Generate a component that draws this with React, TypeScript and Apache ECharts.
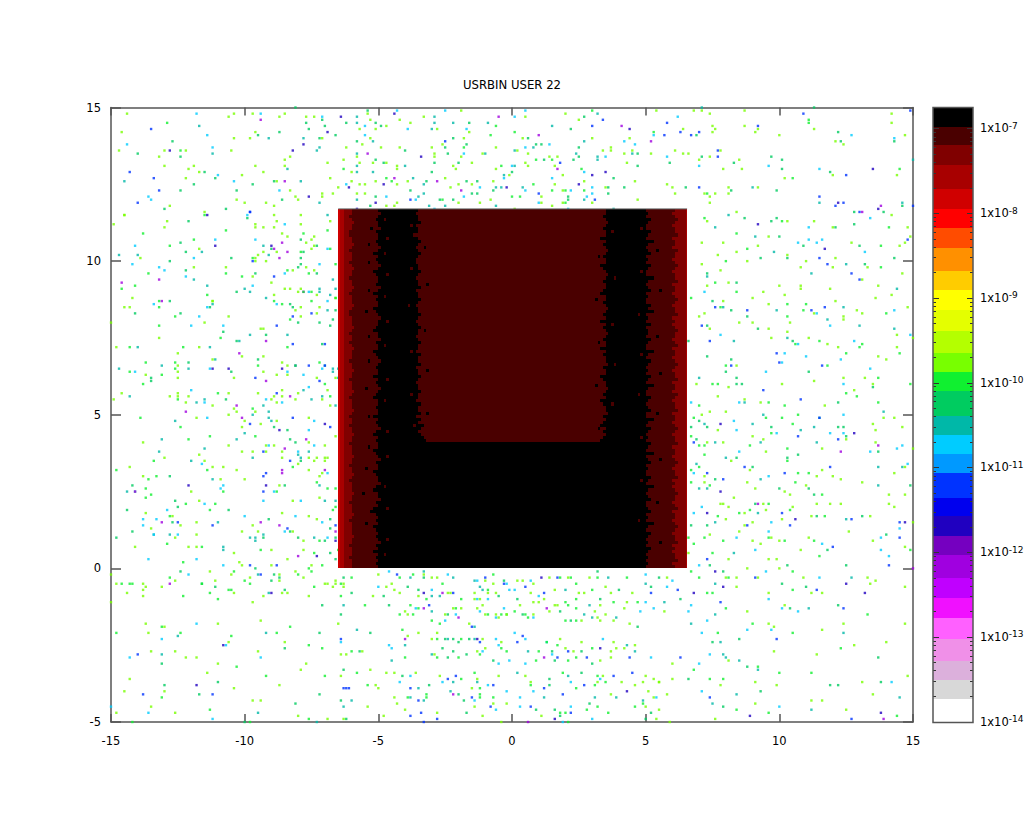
import React, { useEffect, useRef } from "react";
import * as echarts from "echarts";

const titleText = "USRBIN USER 22";
const xTicks = { min: -15, max: 15, step: 5 };
const yTicks = { min: -5, max: 15, step: 5 };

// colour scale: log10 of band edges, bottom to top, and the colour of each band
const bandEdges = [-14, -13.73, -13.51, -13.29, -13.03, -12.78, -12.54, -12.31, -12.04, -11.81, -11.58, -11.36, -11.07, -10.84, -10.62, -10.39, -10.1, -9.88, -9.65, -9.39, -9.14, -8.91, -8.68, -8.41, -8.18, -7.95, -7.72, -7.43, -7.2, -6.99, -6.754];
const bandColors = ["#ffffff", "#d8d8d8", "#dcb0dc", "#f090e8", "#ff60ff", "#f010ff", "#c000ff", "#a000e0", "#7500c0", "#2000c0", "#0000ee", "#0033ff", "#0099ff", "#00ccff", "#00b8a8", "#00cc60", "#10f030", "#78ff00", "#b4ff00", "#e4ff00", "#ffff00", "#ffcc00", "#ff9000", "#ff4c00", "#ff0000", "#d00000", "#a80000", "#800000", "#4a0000", "#000000"];
const decades = [-14, -13, -12, -11, -10, -9, -8, -7];
const minorMultipliers = [2, 3, 4, 5, 6, 7, 8, 9];

// log10 of the value of each kind of scattered bin
const pointKinds = [-9.75, -10, -10.25, -10.5, -10.7, -11.2, -11.7, -12.2];

// block: column edges (tenths of a unit) row by row from y=11.7 downward
const blockLeft = -65;
const blockRight = 65.5;
const blockTop = 117;
const innerRows = 76;
const edgeA = [-60,-60,-61,-60,-59,-60,-60,-61,-61,-60,-60,-59,-60,-61,-60,-60,-60,-61,-60,-59,-60,-60,-61,-60,-60,-59,-60,-61,-60,-60,-60,-59,-60,-61,-61,-60,-60,-60,-59,-60,-61,-60,-60,-61,-60,-59,-60,-60,-60,-61,-60,-60,-59,-60,-60,-61,-60,-60,-60,-59,-60,-61,-60,-60,-60,-59,-60,-61,-60,-60,-61,-60,-60,-59,-60,-60,-61,-60,-60,-60,-59,-60,-60,-61,-60,-60,-59,-60,-61,-60,-60,-60,-59,-60,-60,-61,-60,-60,-60,-59,-60,-61,-60,-60,-60,-60,-59,-60,-60,-61,-60,-60,-60,-61,-60,-60,-60];
const edgeB = [-50,-49,-50,-51,-50,-50,-49,-51,-50,-50,-51,-50,-49,-50,-52,-50,-51,-50,-49,-50,-52,-51,-50,-50,-51,-49,-50,-52,-50,-51,-50,-50,-52,-51,-50,-49,-50,-50,-51,-52,-50,-50,-49,-51,-50,-50,-52,-51,-50,-49,-50,-51,-50,-50,-52,-50,-51,-50,-49,-50,-51,-52,-50,-50,-51,-50,-50,-52,-50,-51,-50,-49,-51,-52,-50,-51,-50,-50,-52,-51,-50,-49,-51,-50,-50,-52,-51,-50,-50,-49,-51,-52,-50,-50,-49,-51,-50,-52,-53,-51,-50,-51,-50,-52,-51,-50,-51,-50,-49,-51,-50,-52,-50,-51,-50,-51,-50];
const edgeC = [-35,-36,-35,-35,-34,-36,-35,-35,-37,-35,-34,-35,-36,-35,-34,-35,-36,-36,-35,-35,-34,-35,-36,-35,-35,-34,-36,-35,-35,-34,-35,-36,-35,-35,-34,-35,-36,-35,-34,-35,-35,-36,-35,-34,-35,-35,-36,-34,-35,-35,-34,-36,-35,-35,-34,-35,-36,-35,-35,-34,-35,-35,-36,-34,-35,-35,-34,-36,-34,-35,-33,-34,-35,-34,-33,-32];
const edgeD = [35,35,34,35,36,35,34,35,35,33,35,34,35,36,35,34,35,35,33,34,35,36,35,34,35,35,34,33,35,35,34,35,36,35,34,35,33,35,34,35,36,35,34,35,35,33,35,34,35,35,36,34,35,35,33,34,35,35,36,35,34,35,33,34,35,35,36,34,35,34,33,35,34,35,34,33];
const edgeE = [50,51,50,52,51,50,50,52,51,50,53,51,50,51,52,50,51,50,52,51,50,50,53,51,50,51,52,50,51,50,50,52,51,53,50,51,50,52,50,51,51,50,52,51,50,50,53,51,50,52,51,50,51,50,52,51,50,53,51,50,50,52,51,50,51,52,50,50,53,51,50,52,51,50,51,50,52,51,50,53,50,51,52,50,51,50,50,52,51,50,53,51,50,51,52,50,50,51,52,50,51,50,53,51,50,52,51,50,51,50,52,51,50,51,50,51,50];
const edgeF = [61,60,61,62,61,60,61,61,62,60,61,61,60,62,61,61,60,61,62,61,60,61,61,62,60,61,61,60,61,62,61,60,61,61,62,60,61,60,61,62,61,61,60,61,62,60,61,61,60,61,62,61,60,61,61,62,60,61,61,60,62,61,60,61,61,62,60,61,61,60,61,62,61,60,61,61,62,60,61,61,60,61,62,61,60,61,61,62,60,61,60,61,62,61,61,60,61,62,60,61,61,60,61,62,61,60,61,61,62,60,61,60,61,61,62,60,61];
// single speckled bins along the band edges: column (x*10), row, log10 value
const strayCells = [-48,3,-7.1,-47,9,-7.1,-48,14,-7.1,-53,6,-6.9,-54,11,-6.9,-54,17,-6.9,-47,21,-7.1,-48,28,-7.1,-54,26,-6.9,-55,33,-6.9,-47,36,-7.1,-48,44,-7.1,-54,41,-6.9,-54,49,-6.9,-47,55,-7.1,-48,62,-7.1,-55,58,-6.9,-54,67,-6.9,-47,72,-7.1,-47,80,-7.1,-54,77,-6.9,-55,84,-6.9,-48,90,-7.1,-47,97,-7.1,-56,92,-6.9,-55,102,-6.9,-47,107,-7.1,-48,112,-7.1,-38,5,-7.1,-38,19,-7.1,-33,12,-6.9,-32,24,-6.9,-39,31,-7.1,-33,39,-6.9,-38,46,-7.1,-32,52,-6.9,-38,60,-7.1,-32,66,-6.9,-37,70,-7.1,37,7,-7.1,32,15,-6.9,38,22,-7.1,31,29,-6.9,37,37,-7.1,32,43,-6.9,38,50,-7.1,31,57,-6.9,37,63,-7.1,32,71,-6.9,48,6,-7.1,54,13,-6.9,48,20,-7.1,55,26,-6.9,47,34,-7.1,54,41,-6.9,48,47,-7.1,55,53,-6.9,47,60,-7.1,54,66,-6.9,48,74,-7.1,55,81,-6.9,48,88,-7.1,54,95,-6.9,47,101,-7.1,55,108,-6.9];

// scattered bins, each as x*10, y*10, kind
const pointsTopLeft = [-144,148,0,-129,145,1,-146,142,0,-147,136,0,-130,136,0,-132,134,0,-130,131,0,-122,127,0,-106,147,0,-104,148,0,-97,148,0,-87,147,0,-85,148,0,-77,147,0,-74,147,0,-104,140,0,-98,140,0,-96,142,0,-105,136,0,-85,133,0,-83,134,0,-85,131,0,-96,131,0,-93,129,0,-101,128,0,-119,131,0,-121,130,0,-117,129,0,-122,136,0,-71,140,0,-69,132,0,-68,127,0,-71,122,0,-67,122,0,-65,124,0,-71,121,0,-81,121,0,-80,120,0,-83,123,0,-88,126,0,-92,119,0,-100,119,0,-103,120,0,-128,118,0,-145,115,0,-115,116,0,-89,118,0,-81,150,2,-127,139,2,-140,135,2,-124,136,1,-124,134,2,-115,129,2,-111,127,2,-119,125,2,-124,123,2,-103,123,2,-97,125,2,-89,126,2,-130,117,2,-107,117,2,-87,142,2,-95,141,2,-76,143,2,-77,145,2,-71,146,2,-70,144,2,-66,141,2,-72,140,2,-86,120,2,-117,144,3,-91,140,3,-78,140,3,-72,137,3,-73,136,3,-112,135,3,-84,130,3,-79,126,3,-145,126,3,-72,119,3,-118,148,4,-94,148,4,-71,147,4,-114,141,4,-112,137,4,-144,138,4,-110,128,4,-104,126,4,-87,123,4,-136,121,4,-135,120,4,-135,143,5,-143,129,5,-134,127,5,-132,123,5,-140,119,5,-98,116,5,-94,146,7,-69,142,6,-78,138,6,-82,136,6,-128,136,6,-85,126,7,-76,121,6];
const pointsTopMiddle = [-54,149,2,-54,148,0,-43,149,4,-44,148,6,-25,149,4,-19,149,0,5,149,4,-5,147,7,1,147,4,5,147,0,20,148,0,27,147,2,32,148,3,30,149,1,-64,147,6,-58,147,3,-58,145,3,-62,145,2,-53,146,0,-51,145,2,-49,144,2,-51,143,0,-47,144,0,-55,144,4,-57,143,0,-42,146,0,-38,145,0,-33,147,0,-29,147,3,-29,145,3,-28,143,0,-22,145,3,-30,143,3,-39,143,4,-16,145,2,-17,143,4,-16,142,0,-9,145,3,-6,144,1,-8,141,1,1,142,1,15,144,3,22,143,2,25,146,0,30,144,5,34,146,5,41,144,7,44,143,6,-55,141,4,-53,140,0,-52,139,3,-58,139,2,-56,138,0,-62,137,0,-49,137,0,-54,135,7,-58,135,3,-58,134,0,-40,136,2,-42,137,0,-25,139,5,-26,138,0,-22,140,2,-18,140,0,-17,138,2,-18,137,1,-30,137,0,-25,137,2,-24,135,2,-29,135,0,-18,135,4,-34,134,6,-29,134,0,-19,134,0,-11,135,0,-10,135,3,-6,137,0,10,141,7,4,140,0,6,140,2,5,137,4,8,137,3,9,138,2,11,138,2,14,138,4,1,136,3,2,136,0,6,135,0,27,139,3,30,140,0,25,137,2,24,135,3,25,134,2,34,136,0,37,137,0,37,136,0,42,139,4,44,140,0,46,138,4,45,136,0,45,135,3,42,135,0,47,135,2,-63,133,0,-51,133,2,-52,132,0,-57,132,0,-58,131,3,-48,132,2,-47,132,0,-43,131,0,-40,131,3,-43,130,0,-29,132,2,-22,131,0,-20,132,2,-15,132,0,-21,130,0,-30,129,2,-63,130,1,-60,129,0,-58,129,3,-52,129,3,-6,130,0,-4,131,1,0,131,4,1,131,3,0,129,2,5,132,0,6,131,0,9,133,1,12,133,2,14,134,0,15,133,1,17,134,0,18,132,5,16,131,0,17,130,7,23,133,2,32,134,3,32,133,3,35,134,4,43,132,0,47,131,2,26,130,1,27,129,4,35,129,6,-3,128,3,-3,127,4,-1,128,0,15,127,4,19,128,0,30,128,6,38,127,2,46,126,0,-60,126,0,-62,125,4,-61,124,6,-57,125,0,-55,125,0,-51,126,0,-48,125,6,-47,127,1,-45,126,1,-44,127,7,-43,125,0,-39,126,0,-37,127,3,-32,126,2,-33,125,3,-28,126,7,-25,127,0,-17,126,2,-13,126,2,-20,125,0,-15,125,0,-23,124,0,-12,124,4,-7,126,0,-6,124,3,-4,124,3,-2,124,6,4,124,3,8,125,1,16,125,0,25,125,6,27,126,0,30,124,4,35,124,0,36,124,2,42,124,2,-38,123,2,-33,122,3,-19,123,7,-15,122,2,-13,122,2,-7,123,2,-18,121,4,5,123,4,10,122,5,15,123,1,19,123,0,20,123,1,22,123,4,27,123,1,36,122,2,30,122,4,-58,122,0,-55,122,0,-51,121,2,-47,121,4,-58,120,3,-51,119,6,-38,120,5,-36,120,4,-35,121,3,-27,120,2,-26,120,1,-22,120,2,-20,119,0,0,121,1,3,121,1,11,121,0,21,121,2,21,120,2,27,120,3,28,121,4,31,120,5,-8,120,0,-12,119,0,-43,119,0,-47,118,0,-44,118,0,-53,118,2,-58,117,6,-31,118,3,-25,118,3,-29,117,4,-6,118,3,10,119,4,11,119,0,15,118,0,19,119,0,20,119,1,21,117,4,1,117,0,30,119,0,47,120,0,38,117,3];
const pointsLeftUpper = [-145,115,0,-149,112,0,-115,115,1,-114,115,6,-99,115,4,-98,116,5,-99,114,2,-96,112,0,-89,115,0,-88,113,0,-79,115,0,-79,112,0,-69,115,3,-129,113,0,-130,111,0,-121,113,2,-138,109,1,-107,110,1,-96,111,0,-93,111,0,-89,111,0,-85,112,4,-86,109,0,-84,108,0,-78,109,1,-75,107,0,-74,108,0,-68,113,0,-69,110,1,-141,105,4,-128,105,1,-124,106,2,-119,107,1,-111,107,4,-111,105,6,-96,107,4,-93,105,3,-90,105,6,-90,104,2,-89,104,7,-86,106,7,-79,107,2,-77,106,0,-74,105,0,-75,104,0,-73,105,2,-69,104,4,-68,104,1,-140,102,3,-122,103,2,-117,104,0,-116,103,3,-105,101,2,-91,102,3,-95,102,0,-88,103,0,-84,103,7,-79,103,1,-78,103,2,-79,101,2,-147,102,3,-139,101,0,-128,100,2,-132,98,4,-119,101,4,-119,98,0,-97,101,1,-96,101,0,-93,103,0,-97,100,5,-96,100,0,-92,100,0,-87,101,7,-79,99,2,-72,99,4,-66,99,1,-136,96,1,-142,99,4,-130,97,4,-122,97,2,-122,95,4,-107,98,0,-119,94,3,-107,96,1,-101,95,1,-97,95,0,-96,96,2,-89,95,5,-85,96,4,-84,97,1,-80,98,2,-77,98,0,-76,96,1,-74,97,0,-73,96,2,-67,94,3,-146,91,1,-141,92,1,-146,93,7,-132,94,7,-114,92,3,-100,91,3,-97,92,4,-90,93,0,-82,97,0,-76,90,4,-72,91,3,-66,88,0,-98,90,3,-89,89,0,-89,87,1,-85,91,0,-83,91,0,-88,86,4,-79,91,0,-78,90,7,-75,90,1,-73,89,0,-72,90,3,-68,89,3,-66,88,1,-114,89,1,-112,87,0,-80,90,0,-78,90,1,-92,88,3,-103,90,2,-69,87,4,-66,91,3,-128,87,2,-112,87,0,-113,85,2,-142,88,0,-134,86,4,-131,87,7,-132,87,1,-145,85,0,-143,85,0,-132,85,1,-114,85,4,-112,86,3,-86,86,1,-83,86,2,-75,87,1,-72,85,0,-73,83,0,-66,84,2,-82,85,2,-79,85,0,-69,84,3,-150,80,0,-141,83,2,-126,82,1,-124,83,2,-117,82,4,-106,82,0,-81,84,0,-79,82,0,-75,83,5,-83,81,1,-82,82,5,-63,80,7,-132,79,1,-120,79,4,-115,80,0,-108,79,4,-98,76,3,-93,78,0,-92,76,2,-67,81,2,-72,80,2,-68,79,2,-123,72,1,-108,77,2,-109,75,1,-102,74,3,-94,78,0,-84,76,3,-80,80,2,-84,72,1,-82,73,5,-70,73,5,-64,73,5,-88,79,5,-102,70,7,-92,74,7,-148,72,0,-143,72,1,-140,72,3,-132,75,0,-117,72,0,-113,72,3,-103,74,2,-101,69,0,-93,69,0,-71,73,2,-64,74,1,-137,67,1,-126,67,1,-125,70,0,-121,67,2,-112,68,0,-111,68,3,-95,68,2,-84,66,0,-84,64,4,-86,67,0,-81,66,5,-78,63,4,-72,67,1,-70,66,3,-67,65,3,-65,65,3,-67,64,3,-143,64,1,-137,63,0,-131,66,3,-125,66,0,-121,65,3,-113,65,4,-106,65,6,-95,66,1,-86,65,6,-81,66,1,-76,66,5,-71,65,4,-70,66,5,-64,64,0,-147,65,3,-141,64,4,-131,63,1,-126,65,1,-125,64,0,-112,65,6,-105,64,2,-93,64,0,-88,63,0,-84,63,0,-73,62,0,-66,62,0,-135,61,2,-125,62,0,-104,62,0,-96,62,5,-92,61,7,-72,61,5,-70,60,1,-65,62,3];
const pointsLeftMiddle = [-138,60,1,-135,62,2,-146,57,0,-143,56,3,-149,55,0,-128,56,0,-125,57,0,-125,56,0,-125,55,1,-121,56,0,-122,54,0,-120,58,4,-118,54,3,-115,55,3,-115,54,4,-112,53,0,-110,57,1,-106,57,0,-107,55,2,-103,53,7,-104,52,0,-103,51,0,-95,57,0,-92,55,4,-89,56,0,-88,57,5,-86,58,0,-86,56,0,-83,56,7,-90,55,0,-88,54,0,-86,54,4,-81,55,0,-80,57,0,-78,58,3,-76,59,4,-75,55,3,-71,56,3,-71,55,0,-69,58,0,-68,56,1,-68,53,0,-66,53,3,-97,52,1,-96,51,0,-93,53,3,-91,51,3,-139,49,1,-122,51,7,-118,49,0,-114,49,4,-106,50,0,-101,49,7,-100,48,0,-97,50,3,-91,49,3,-90,48,3,-88,48,0,-82,49,5,-76,49,0,-74,48,4,-70,47,6,-68,46,5,-126,48,3,-124,46,1,-101,46,0,-100,44,3,-98,47,5,-94,47,0,-89,46,2,-87,45,6,-84,45,2,-76,45,4,-96,43,1,-113,43,1,-103,42,3,-138,41,0,-131,42,3,-121,42,1,-83,42,2,-81,41,2,-77,42,7,-76,41,0,-74,40,4,-70,40,0,-66,43,0,-106,40,0,-92,40,0,-91,40,4,-89,40,0,-85,39,7,-115,39,3,-132,38,3,-117,37,0,-101,38,0,-97,38,0,-93,38,5,-92,38,0,-86,38,0,-86,36,0,-80,38,4,-80,37,3,-76,38,3,-69,36,0,-70,36,0,-130,36,0,-120,35,3,-115,35,0,-97,36,3,-79,36,3,-79,35,2,-83,35,5,-76,36,0,-73,36,0,-74,35,0,-70,35,0,-134,35,1,-116,34,4,-108,33,0,-80,34,0,-82,33,1,-112,33,0,-114,32,1,-143,33,0,-148,32,1,-70,32,7,-103,32,0,-86,32,7];
const pointsLeftLower = [-138,30,0,-136,29,1,-133,30,1,-128,30,2,-112,29,3,-109,29,0,-100,29,0,-93,30,5,-92,31,5,-86,31,7,-76,32,0,-69,31,4,-72,30,0,-71,31,0,-64,32,0,-142,27,2,-144,25,3,-141,25,3,-141,25,7,-137,26,1,-120,25,0,-121,27,6,-108,27,4,-109,26,4,-108,25,1,-92,27,6,-93,25,5,-89,25,4,-88,25,1,-85,27,2,-87,27,0,-73,28,1,-72,27,3,-69,26,1,-66,26,1,-137,23,1,-135,24,1,-126,22,2,-125,20,2,-117,22,0,-115,21,4,-111,21,1,-93,22,4,-82,22,0,-79,22,4,-72,23,0,-70,22,3,-66,22,3,-144,19,2,-137,18,0,-129,19,4,-122,21,1,-127,17,0,-113,19,1,-106,19,2,-100,17,4,-86,18,0,-76,17,0,-66,20,1,-63,19,3,-67,19,1,-133,16,4,-138,16,4,-131,15,7,-128,17,1,-127,15,2,-118,15,0,-110,15,3,-94,15,7,-91,16,2,-81,17,4,-66,14,5,-71,15,4,-68,16,2,-73,16,0,-63,15,0,-138,14,4,-135,13,0,-124,14,0,-125,15,5,-112,14,5,-97,14,0,-87,14,7,-68,13,2,-134,11,3,-134,11,4,-142,12,2,-128,11,3,-125,11,4,-126,10,0,-118,11,0,-95,12,0,-96,9,3,-96,10,3,-93,11,3,-93,10,2,-101,12,0,-98,10,3,-84,13,5,-85,12,4,-83,12,2,-82,12,0,-80,10,2,-78,9,0,-74,10,3,-72,9,1,-70,9,2,-69,10,4,-66,12,7,-66,10,2,-66,9,6,-148,10,2,-141,7,0,-129,8,1,-121,7,0,-118,7,0,-116,7,1,-108,7,3,-108,6,3,-104,5,0,-94,6,1,-90,6,0,-78,6,0,-74,5,1,-73,4,6,-68,5,2,-65,6,1,-136,3,4,-123,2,1,-118,3,4,-108,1,4,-102,2,0,-98,1,5,-96,0,2,-95,-2,3,-90,1,0,-98,-3,0,-101,1,0,-84,3,0,-80,4,7,-75,1,0,-76,0,1,-71,1,1,-66,3,2,-150,-2,0,-124,-1,2,-113,-1,0,-104,-1,1,-100,-4,1,-94,-2,5,-88,1,5,-89,-2,2,-87,-2,0,-81,-1,0,-80,-2,1,-63,-3,2,-126,-4,0,-128,-3,1,-121,-2,4,-116,-5,2,-111,-4,0,-105,-2,0,-90,-4,2,-87,-3,2,-78,-3,0,-75,-1,1,-142,-5,1,-138,-7,0,-138,-9,0,-131,-6,0,-116,-5,1,-111,-6,2,-105,-7,1,-104,-8,0,-90,-8,6,-84,-8,0,-64,-9,1,-150,-11,0,-143,-5,1,-128,-5,7,-123,-9,1,-110,-10,1,-106,-7,1,-98,-5,1,-93,-9,0,-87,-4,0,-85,-7,2,-69,-5,0,-66,-4,0,-148,-5,0,-146,-5,1,-144,-8,0,-138,-5,0,-137,-6,0,-113,-8,1,-97,-11,0,-91,-8,3,-86,-8,0,-76,-9,0,-74,-6,1,-71,-12,2,-70,-5,0,-67,-6,0,-66,-5,0,-64,-5,1,-63,-5,0,-137,-18,0,-131,-19,1,-118,-18,4,-110,-18,0,-94,-17,0,-92,-21,3,-85,-24,0,-76,-25,1,-72,-21,2,-65,-18,0,-148,-21,1,-136,-21,0,-130,-19,0,-131,-23,4,-125,-22,3,-124,-21,1,-108,-25,6,-106,-24,0,-88,-21,1,-83,-19,1,-64,-23,5,-135,-27,0,-126,-27,0,-122,-29,0,-118,-29,0,-107,-25,4,-105,-22,1,-95,-27,0,-85,-26,2,-71,-26,1,-64,-24,4,-143,-29,4,-140,-28,5,-131,-28,3,-131,-31,2,-114,-34,0,-110,-31,0,-103,-32,1,-94,-29,4,-79,-33,0,-77,-31,0,-70,-35,1,-64,-35,0,-143,-36,0,-145,-40,0,-138,-41,5,-131,-42,1,-130,-38,2,-130,-40,0,-118,-38,6,-117,-41,2,-112,-41,5,-110,-37,2,-104,-39,0,-97,-43,0,-92,-35,1,-87,-38,0,-72,-41,2,-63,-39,5,-150,-45,4,-148,-47,0,-136,-47,4,-135,-45,0,-126,-47,0,-113,-46,1,-94,-43,0,-81,-44,2,-64,-43,2,-100,-50,2,-95,-47,3,-80,-48,0,-76,-49,1,-71,-52,0,-69,-49,0,-63,-49,0,-142,-50,1,-112,-49,4,-98,-50,1,-73,-50,3];
const pointsBottomMiddle = [-64,2,2,-60,-3,1,-50,-2,0,-46,-1,4,-43,-2,5,-42,-3,1,-38,-3,3,-37,-2,1,-33,-2,0,-33,-3,2,-33,-1,3,-30,-3,0,-28,-3,0,-24,-2,4,-22,-3,3,-14,-4,3,-13,-4,4,-10,-3,5,-10,-4,0,-7,-2,1,-7,-5,0,-3,-4,2,-2,-5,4,2,-4,0,4,-4,0,7,-4,4,8,-5,0,11,-3,6,14,-3,0,17,-3,5,18,-3,1,21,-3,0,22,-3,1,24,-5,1,29,-3,0,32,-1,2,32,-3,1,36,-3,3,43,-3,1,50,-2,4,50,-5,3,55,-3,2,58,-3,0,60,-4,4,-50,-6,4,-44,-7,0,-39,-6,2,-35,-7,2,-33,-8,6,-30,-7,4,-26,-5,1,-23,-8,0,-14,-8,0,-12,-6,3,-11,-7,3,-9,-7,1,-9,-8,0,-3,-5,5,-1,-7,4,1,-7,4,5,-6,5,7,-8,0,10,-9,4,12,-8,5,16,-7,0,20,-7,3,25,-8,0,27,-8,0,30,-7,1,35,-6,0,37,-8,0,40,-7,2,45,-8,0,52,-8,5,52,-6,2,58,-6,4,62,-7,5,-63,-6,0,-60,-8,2,-55,-12,1,-52,-9,0,-48,-9,2,-47,-6,0,-45,-5,0,-42,-8,0,-38,-12,1,-35,-9,0,-32,-10,1,-30,-9,3,-27,-9,3,-26,-8,7,-24,-8,0,-22,-8,5,-19,-10,1,-14,-10,0,-13,-10,4,-12,-10,0,-9,-10,4,-6,-8,0,-5,-9,2,2,-10,2,3,-12,0,8,-11,0,10,-11,0,12,-10,0,16,-12,0,20,-11,1,24,-10,1,29,-12,3,33,-10,2,38,-11,1,43,-11,0,47,-11,1,50,-11,4,57,-11,3,63,-10,2,-63,-12,3,-46,-12,2,-40,-14,0,-39,-15,0,-35,-13,1,-37,-15,1,-36,-13,4,-33,-13,7,-31,-12,5,-30,-14,3,-25,-15,0,-24,-15,2,-22,-13,0,-21,-13,1,-19,-13,0,-13,-13,0,-12,-14,4,-11,-12,0,-10,-15,0,-6,-15,0,-3,-13,4,-2,-15,1,1,-14,1,5,-15,1,8,-15,0,13,-13,7,14,-14,0,17,-12,0,18,-14,2,21,-12,1,24,-13,1,27,-15,3,31,-14,0,33,-12,0,35,-15,0,42,-13,0,48,-14,4,53,-13,4,57,-14,0,-64,-15,2,-42,-15,1,-30,-17,1,-27,-18,1,-25,-17,4,-21,-15,4,-20,-16,7,-16,-18,0,-15,-19,5,-14,-19,3,-9,-15,1,-6,-16,4,-5,-16,0,-4,-15,1,-2,-15,0,4,-15,2,6,-16,1,8,-16,4,20,-17,1,22,-17,2,24,-17,1,26,-17,0,30,-16,3,32,-16,0,33,-17,0,38,-17,0,39,-16,3,44,-18,0,47,-19,2,-58,-20,3,-53,-21,2,-41,-20,1,-39,-22,0,-40,-23,7,-40,-25,3,-35,-21,0,-30,-23,0,-28,-21,0,-28,-23,1,-25,-23,2,-24,-23,3,-22,-23,2,-20,-24,2,-19,-23,1,-16,-23,2,-14,-23,3,-13,-23,6,-12,-24,5,-11,-23,0,-6,-23,4,-5,-25,4,-4,-24,0,1,-21,4,2,-24,5,4,-22,5,5,-23,4,13,-24,4,13,-24,1,17,-25,1,18,-23,0,26,-24,0,34,-23,4,38,-24,0,43,-25,3,46,-25,0,-64,-28,0,-60,-27,1,-57,-27,2,-46,-25,4,-45,-26,4,-30,-28,3,-26,-26,2,-22,-27,2,-17,-28,2,-13,-27,0,-11,-27,4,-10,-26,0,-4,-26,1,-2,-27,1,6,-27,3,10,-27,1,15,-27,2,20,-26,0,21,-27,5,23,-27,0,26,-27,2,30,-26,1,33,-26,6,37,-27,0,39,-26,0,42,-26,0,46,-27,3,-62,-28,0,-56,-27,0,-45,-30,3,-40,-29,1,-29,-28,0,-28,-29,1,-24,-29,2,-20,-29,1,-12,-28,1,-7,-30,2,-5,-31,4,-1,-30,4,5,-31,4,9,-30,1,12,-29,7,15,-28,4,16,-30,2,17,-29,5,21,-30,1,24,-29,1,28,-29,5,30,-31,2,33,-30,0,37,-29,0,44,-29,5,52,-29,4,60,-31,0,63,-29,5,-63,-33,2,-58,-34,1,-53,-33,0,-47,-34,0,-44,-34,0,-41,-35,2,-38,-35,4,-36,-34,0,-27,-35,0,-24,-36,5,-22,-37,3,-21,-35,5,-19,-36,1,-14,-34,1,-13,-36,0,-5,-35,0,2,-34,3,5,-35,0,7,-37,0,14,-36,2,19,-34,1,21,-35,3,26,-34,2,32,-35,1,33,-36,4,34,-35,0,38,-35,5,45,-34,5,49,-37,0,50,-35,0,53,-36,0,55,-37,0,60,-36,0,-61,-39,5,-54,-38,1,-51,-38,0,-42,-37,4,-38,-39,5,-35,-39,3,-31,-38,2,-26,-37,4,-23,-40,3,-15,-39,0,-13,-37,3,-12,-39,1,-9,-38,4,-7,-38,5,-2,-40,4,7,-38,1,12,-39,5,14,-38,2,22,-37,4,27,-38,5,31,-38,1,32,-37,0,35,-37,1,41,-37,0,43,-40,6,46,-38,0,55,-37,0,-60,-43,3,-62,-39,5,-50,-39,0,-44,-42,0,-39,-42,1,-38,-42,3,-35,-43,5,-32,-41,1,-32,-42,1,-22,-41,7,-20,-41,2,-18,-43,2,-15,-42,5,-14,-43,4,-12,-42,1,-12,-41,1,-7,-42,1,-2,-44,0,3,-42,4,8,-40,4,12,-42,3,19,-41,5,24,-39,1,31,-42,3,37,-41,0,39,-42,3,49,-43,3,51,-40,0,53,-42,0,54,-42,4,58,-41,0,-63,-45,3,-54,-45,0,-43,-44,0,-40,-46,0,-33,-43,3,-14,-45,0,-7,-44,0,-6,-46,4,-8,-45,5,3,-45,4,7,-45,5,9,-46,2,16,-46,2,18,-47,1,22,-45,4,28,-46,1,29,-44,2,32,-45,1,46,-45,1,49,-44,1,50,-45,0,52,-47,2,55,-46,0,-62,-49,2,-48,-48,0,-38,-48,5,-34,-47,5,-28,-47,0,-28,-49,5,-17,-47,2,-11,-48,0,-4,-50,0,11,-48,0,16,-49,6,18,-48,2,20,-47,1,22,-47,5,30,-49,4,36,-47,1,50,-49,2,54,-49,0,59,-50,0,-33,-50,5,6,-50,7,19,-50,4,21,-50,1];
const pointsRightUpper = [54,149,0,68,149,0,71,150,3,62,147,4,71,149,0,58,145,5,74,148,0,87,149,0,113,150,2,109,148,5,111,146,1,111,145,1,142,148,0,152,145,1,149,149,5,64,143,0,53,142,1,53,141,4,57,141,5,63,142,5,67,141,5,69,141,2,76,143,0,75,142,0,70,142,5,75,144,0,87,144,0,92,143,0,91,142,0,92,144,5,100,141,0,113,143,0,121,139,0,122,142,2,124,138,0,127,141,4,123,139,2,142,145,0,143,139,2,147,141,0,143,140,4,151,141,2,155,144,0,78,136,0,77,136,5,52,139,7,52,135,0,61,136,0,58,134,4,59,132,2,64,135,0,66,135,0,70,133,0,71,134,2,70,131,4,77,134,5,74,134,0,83,132,2,85,133,0,79,130,0,86,130,0,97,134,2,101,133,2,96,131,4,101,130,2,120,128,0,115,130,4,102,127,0,105,127,1,119,129,2,125,128,5,135,130,6,144,128,0,145,130,1,155,130,3,150,133,3,156,125,2,153,128,4,58,125,0,70,124,5,60,124,0,61,122,0,65,124,2,81,124,0,82,123,2,73,122,1,74,121,0,72,122,0,74,119,0,76,122,0,81,122,0,92,124,0,90,124,3,99,123,2,115,121,5,115,119,3,121,118,5,122,119,6,124,119,5,130,116,5,131,116,7,138,118,7,137,117,6,128,116,2,150,118,5,146,118,2,139,116,2,142,115,0,134,114,4,146,119,3,152,117,4,151,113,4,52,115,1,72,114,1,56,112,1,59,113,0,73,113,0,81,115,3,84,116,0,87,114,2,99,114,2,101,113,1,103,113,0,92,112,6,97,113,2,113,113,0,121,111,2,120,111,0,111,111,4,128,112,2,141,111,1,148,111,0,152,111,4,148,107,5,76,111,3,84,109,1,91,108,3,96,108,0,100,108,2,111,107,4,107,106,4,109,105,2,116,107,4,117,104,6,127,106,0,130,105,2,132,103,4,138,105,1,147,106,0,151,104,3,158,107,0,156,106,0,53,105,1,59,110,0,61,106,4,65,104,0,71,106,0,77,102,0,79,106,0,84,103,0,88,104,1,92,105,0,93,101,2,88,100,0,98,103,3,103,101,2,103,102,0,108,98,0,114,106,4,118,99,5,115,101,5,121,101,0,125,99,3,127,96,5,132,99,2,133,98,0,138,98,1,143,101,2,145,105,0,149,108,0,153,101,0,52,101,0,58,95,2,65,102,0,71,99,0,78,97,0,73,96,2,80,100,1,84,93,2,110,100,0,108,92,0,112,96,3,120,98,0,130,94,5,146,96,0,152,96,2,153,94,0,155,103,0,53,97,0,60,93,0,67,88,1,72,90,4,73,95,3,81,93,0,79,87,0,84,90,1,88,84,5,76,93,1,73,92,0,76,85,5,72,83,0,94,90,0,90,88,0,100,92,0,102,89,0,108,91,0,119,91,0,112,84,5,113,83,0,110,86,1,136,88,0,137,92,0,144,91,3,121,87,0,124,85,3,129,84,0,117,85,5,131,94,0,142,89,0,65,95,3,58,86,0,65,90,0,57,84,4,62,85,2,75,87,2,78,85,1,79,85,3,82,84,2,88,82,2,90,80,0,96,86,0,99,84,3,103,86,1,103,82,1,104,80,0,109,84,1,114,83,4,118,81,3,124,81,0,124,82,0,140,83,1,148,85,0,143,84,4,131,83,0,59,81,1,71,79,5,73,79,2,85,80,0,92,78,2,96,78,0,103,77,0,119,79,4,130,79,3,143,78,3,144,76,0,152,79,0,62,78,4,70,82,0,74,78,0,78,76,4,97,75,0,103,75,3,106,73,1,107,73,4,111,75,0,122,72,0,128,74,4,130,72,1,149,76,4,47,75,0,57,71,5,66,74,2,74,74,5,83,74,3,99,70,5,102,70,4,105,74,2,110,69,4,115,74,1,118,73,0,125,70,1,131,73,1,137,69,0,144,72,0,145,70,1,150,75,0,55,68,0,73,69,2,82,68,2,80,66,1,84,66,0,100,67,5,101,67,4,116,66,5,118,66,1,124,62,0,123,68,4,140,68,0,153,66,0,57,64,4,55,62,2,65,62,0,70,62,3,80,64,2,82,66,5,84,62,2,95,64,4,111,64,2,132,62,0,134,65,4,137,62,1,151,62,3,59,60,3,58,60,4,61,59,0,62,60,1,69,60,0,75,60,1,84,60,2,86,60,2,101,60,0,113,61,0,124,60,4,125,57,1,135,60,0,135,59,2,149,60,1,151,59,4,62,57,1,70,53,1,77,60,1,81,59,0,87,54,3,87,55,0,85,54,4,94,58,5,96,54,1,102,53,1,108,55,5,117,53,0,122,54,2,128,58,0,129,56,1,137,54,1,139,51,3,154,54,0,156,50,0,67,54,4,77,56,0,74,51,0,80,51,0,93,54,0];
const pointsRightLower = [68,49,1,71,50,0,78,47,6,83,48,4,94,50,3,95,49,1,101,49,1,107,50,1,115,49,3,113,46,3,143,49,0,139,49,0,115,49,5,124,50,4,67,46,2,70,48,2,72,47,3,73,46,2,77,45,0,84,45,4,90,47,3,97,46,2,105,47,1,108,45,3,122,46,2,124,46,2,128,44,6,136,45,0,124,44,4,146,46,0,135,47,0,67,43,1,69,42,2,72,40,1,70,40,1,73,41,0,79,41,0,90,43,0,94,42,0,99,44,4,107,43,5,97,44,1,114,41,3,122,42,5,119,44,4,125,43,2,125,42,0,136,41,0,137,40,7,146,40,4,150,39,0,158,42,0,68,41,5,76,41,3,89,40,1,93,41,3,95,38,0,103,39,1,116,39,0,123,38,7,144,39,4,134,38,4,137,38,2,153,41,0,72,37,1,69,34,3,80,36,3,82,35,0,84,36,2,85,38,4,90,33,2,103,36,2,103,35,1,107,37,2,137,33,3,146,33,3,143,31,0,147,33,0,148,34,4,67,32,1,70,33,1,72,30,0,73,31,5,76,29,2,87,33,5,89,32,0,96,30,4,102,31,5,107,31,1,111,31,1,114,30,0,119,33,5,116,32,0,123,29,0,120,30,0,131,28,0,67,28,1,68,31,4,72,28,0,74,27,1,79,29,5,88,28,0,91,26,0,93,29,3,106,28,1,110,27,0,111,26,2,137,27,3,149,27,2,70,26,3,73,26,3,78,25,6,83,23,0,100,26,2,102,25,0,104,24,0,113,24,2,116,24,1,141,24,0,147,24,0,154,28,2,71,20,4,78,21,0,79,21,0,81,20,0,89,19,1,91,21,2,94,21,0,96,21,1,92,21,7,95,19,0,101,18,5,105,20,0,114,21,0,119,21,0,123,21,0,141,21,0,143,20,0,157,22,0,68,18,4,73,18,6,77,17,1,80,16,0,85,18,1,87,18,0,92,18,3,106,16,6,104,19,1,114,17,2,117,17,1,125,16,3,131,17,2,134,17,0,145,15,5,147,15,6,150,15,0,154,17,0,67,14,2,73,14,2,76,15,3,88,14,5,90,15,0,97,15,4,101,16,0,112,17,0,127,16,5,145,13,4,72,10,1,74,11,0,85,12,0,87,14,0,96,12,4,97,10,0,104,14,5,111,10,0,126,12,0,138,10,4,140,11,2,145,10,5,155,10,0,156,7,0,66,10,1,68,8,1,79,9,1,84,10,4,90,9,0,93,8,0,96,10,1,100,9,0,102,9,1,113,9,1,116,8,4,118,6,2,120,7,5,135,9,0,147,7,0,149,6,1,157,9,0,157,6,7,66,5,0,73,3,5,75,5,1,83,5,3,91,6,4,96,3,0,99,3,0,108,6,0,115,4,1,138,6,4,141,4,4,151,3,1,70,1,4,74,1,2,81,3,0,88,0,0,100,0,0,103,1,2,125,1,2,141,1,5,150,0,7,152,1,3,67,-1,1,70,-3,1,76,-1,6,81,-3,1,79,-1,2,95,-1,4,105,-1,1,115,-3,4,127,-3,3,156,-1,0,158,-2,0,80,-3,0,84,-3,0,91,-3,5,101,-5,2,109,-3,0,125,-5,6,136,-4,0,133,-3,0,76,-5,3,75,-8,1,79,-6,6,84,-6,0,92,-3,0,96,-8,0,110,-6,2,114,-7,5,134,-5,0,147,-6,0,68,-8,6,67,-12,4,73,-8,1,78,-11,5,102,-12,0,105,-7,1,112,-8,0,116,-8,0,132,-8,6,66,-14,4,76,-15,3,80,-13,1,88,-14,0,96,-10,4,101,-13,4,104,-13,2,111,-13,3,122,-12,2,133,-15,1,153,-14,1,155,-15,7,67,-18,3,73,-17,4,90,-18,1,88,-20,4,96,-18,0,98,-19,0,107,-14,4,124,-13,5,124,-18,0,147,-18,0,158,-19,2,71,-21,4,77,-21,1,75,-24,2,78,-24,3,85,-23,2,97,-20,4,99,-23,5,105,-21,1,116,-20,0,124,-21,3,128,-25,0,140,-24,0,74,-28,4,79,-28,3,80,-29,3,81,-30,0,85,-30,3,92,-32,1,98,-27,0,114,-28,0,123,-26,1,137,-29,2,151,-25,7,156,-29,0,70,-31,4,68,-33,1,66,-36,2,74,-36,1,79,-36,1,88,-32,2,92,-33,3,91,-37,0,93,-40,2,100,-34,1,112,-34,1,119,-38,2,122,-38,2,131,-37,0,142,-37,4,158,-34,4,71,-40,4,74,-42,5,78,-38,0,84,-41,3,91,-44,0,99,-38,0,112,-43,0,116,-43,0,135,-41,0,138,-37,2,148,-35,0,145,-42,3,75,-44,3,79,-45,2,84,-46,1,96,-47,1,100,-45,4,112,-46,3,125,-46,0,138,-47,6,144,-48,1,154,-47,0,76,-49,0,89,-48,6,127,-49,5,139,-49,7];

const pointGroups = [pointsTopLeft, pointsTopMiddle, pointsLeftUpper, pointsLeftMiddle, pointsLeftLower, pointsBottomMiddle, pointsRightUpper, pointsRightLower];

function colorOf(v: number) {
  for (let i = 0; i < bandColors.length; i++) if (v < bandEdges[i + 1]) return bandColors[i];
  return bandColors[bandColors.length - 1];
}

function blockRows() {
  const out: number[][] = [];
  const seg = (a: number, b: number, r: number, v: number) => {
    const top = blockTop - r;
    out.push([a / 10, b / 10, (top - 1) / 10, top / 10, v]);
  };
  for (let r = 0; r < edgeA.length; r++) {
    seg(blockLeft, -64.5, r, -7.85);
    seg(-64.5, -63, r, -7.6);
    seg(-63, edgeA[r], r, -7.3);
    seg(edgeA[r], edgeB[r], r, -7.1);
    if (r < innerRows) {
      seg(edgeB[r], edgeC[r], r, -6.9);
      seg(edgeC[r], edgeD[r], r, -7.1);
      seg(edgeD[r], edgeE[r], r, -6.9);
    } else {
      seg(edgeB[r], edgeE[r], r, -6.9);
    }
    seg(edgeE[r], edgeF[r], r, -7.1);
    seg(edgeF[r], 65, r, -7.3);
    seg(65, blockRight, r, -7.6);
  }
  for (let i = 0; i + 2 < strayCells.length; i += 3) {
    seg(strayCells[i], strayCells[i] + 1, strayCells[i + 1], strayCells[i + 2]);
  }
  return out;
}

function scatterData() {
  const out: any[] = [];
  pointGroups.forEach((g) => {
    for (let i = 0; i + 2 < g.length; i += 3) {
      const v = pointKinds[g[i + 2]];
      out.push({ value: [g[i] / 10, g[i + 1] / 10], itemStyle: { color: colorOf(v) } });
    }
  });
  return out;
}

function bandData() {
  return bandColors.map((_, i) => [0, 1, bandEdges[i], bandEdges[i + 1], (bandEdges[i] + bandEdges[i + 1]) / 2]);
}

function tickData() {
  const out: number[][] = [];
  decades.forEach((d) => {
    out.push([d, 1]);
    if (d < -7) minorMultipliers.forEach((m) => out.push([d + Math.log10(m), 0]));
  });
  return out;
}

function rectItem(params: any, api: any) {
  const a = api.coord([api.value(0), api.value(3)]);
  const b = api.coord([api.value(1), api.value(2)]);
  const x0 = Math.round(a[0]);
  const x1 = Math.round(b[0]);
  const y0 = Math.round(a[1]);
  const y1 = Math.round(b[1]);
  return {
    type: "rect",
    shape: { x: x0, y: y0, width: x1 - x0, height: y1 - y0 },
    style: { fill: colorOf(api.value(4)) },
  };
}

const font = "'DejaVu Sans', sans-serif";
const lineCol = "#555";

export default function App() {
  const ref = useRef<HTMLDivElement>(null);
  useEffect(() => {
    const chart = echarts.init(ref.current!, undefined, { renderer: "svg" });
    const axisBase = {
      type: "value" as const,
      splitLine: { show: false },
      axisLine: { show: true, onZero: false, lineStyle: { color: lineCol, width: 1.5 } },
      axisTick: { show: true, inside: true, lineStyle: { color: lineCol, width: 1.5 } },
    };
    const xa = { ...axisBase, min: xTicks.min, max: xTicks.max, interval: xTicks.step, gridIndex: 0 };
    const ya = { ...axisBase, min: yTicks.min, max: yTicks.max, interval: yTicks.step, gridIndex: 0 };
    const label = { color: "#000", fontSize: 11.5, fontFamily: font };
    chart.setOption({
      animation: false,
      backgroundColor: "#fff",
      title: {
        text: titleText,
        left: 512,
        top: 79,
        padding: 0,
        textAlign: "center",
        textStyle: { fontSize: 11.7, fontWeight: "normal", color: "#000", fontFamily: font },
      },
      grid: [
        { left: 111, top: 107.5, width: 802, height: 614.5, outerBoundsMode: "none" },
        { left: 933, top: 107.5, width: 40, height: 614, outerBoundsMode: "none" },
      ],
      xAxis: [
        { ...xa, position: "bottom", axisTick: { ...axisBase.axisTick, length: 8 }, axisLabel: { ...label, margin: 13 } },
        { ...xa, position: "top", axisTick: { ...axisBase.axisTick, length: 8 }, axisLabel: { show: false } },
        { type: "value", gridIndex: 1, min: 0, max: 1, show: false },
      ],
      yAxis: [
        { ...ya, position: "left", axisTick: { ...axisBase.axisTick, length: 10 }, axisLabel: { ...label, margin: 10 } },
        { ...ya, position: "right", axisTick: { ...axisBase.axisTick, length: 10 }, axisLabel: { show: false } },
        {
          type: "value",
          gridIndex: 1,
          position: "right",
          min: bandEdges[0],
          max: bandEdges[bandEdges.length - 1],
          interval: 1,
          splitLine: { show: false },
          axisLine: { show: false },
          axisTick: { show: false },
          axisLabel: {
            margin: 7,
            showMaxLabel: false,
            formatter: (v: number) => `{a|1x10}{b|${v}}`,
            rich: {
              a: { fontSize: 11.5, fontFamily: font, color: "#000", height: 14, lineHeight: 14 },
              b: { fontSize: 9, fontFamily: font, color: "#000", height: 9, lineHeight: 9, verticalAlign: "top" },
            },
          },
        },
      ],
      series: [
        {
          type: "scatter",
          xAxisIndex: 0,
          yAxisIndex: 0,
          symbol: "rect",
          symbolSize: 2.4,
          data: scatterData(),
          silent: true,
          z: 2,
        },
        {
          type: "custom",
          xAxisIndex: 0,
          yAxisIndex: 0,
          renderItem: rectItem,
          encode: { x: [0, 1], y: [2, 3] },
          data: blockRows(),
          silent: true,
          z: 3,
        },
        {
          type: "custom",
          xAxisIndex: 0,
          yAxisIndex: 0,
          renderItem: (_p: any, api: any) => {
            const a = api.coord([blockLeft / 10, blockTop / 10]);
            const b = api.coord([blockRight / 10, blockTop / 10]);
            return { type: "line", shape: { x1: a[0], y1: a[1], x2: b[0], y2: b[1] }, style: { stroke: "#666", lineWidth: 1 } };
          },
          data: [[0]],
          silent: true,
          z: 4,
        },
        {
          type: "custom",
          xAxisIndex: 2,
          yAxisIndex: 2,
          renderItem: rectItem,
          encode: { x: [0, 1], y: [2, 3] },
          data: bandData(),
          silent: true,
          z: 3,
        },
        {
          type: "custom",
          xAxisIndex: 2,
          yAxisIndex: 2,
          renderItem: (_p: any, api: any) => {
            const v = api.value(0);
            const len = api.value(1) ? 6 : 3;
            const l = api.coord([0, v]);
            const r = api.coord([1, v]);
            const y = Math.round(l[1]) + 0.5;
            const st = { stroke: "#333", lineWidth: 1 };
            return {
              type: "group",
              children: [
                { type: "line", shape: { x1: l[0], y1: y, x2: l[0] + len, y2: y }, style: st },
                { type: "line", shape: { x1: r[0] - len, y1: y, x2: r[0], y2: y }, style: st },
              ],
            };
          },
          data: tickData(),
          silent: true,
          z: 4,
        },
        {
          type: "custom",
          xAxisIndex: 2,
          yAxisIndex: 2,
          renderItem: (_p: any, api: any) => {
            const a = api.coord([0, bandEdges[bandEdges.length - 1]]);
            const b = api.coord([1, bandEdges[0]]);
            return {
              type: "rect",
              shape: { x: a[0], y: a[1], width: b[0] - a[0], height: b[1] - a[1] + 1 },
              style: { fill: "none", stroke: lineCol, lineWidth: 1.5 },
            };
          },
          data: [[0]],
          silent: true,
          z: 5,
        },
      ],
    });
    return () => chart.dispose();
  }, []);
  return <div ref={ref} style={{ width: 1024, height: 828, position: "absolute", left: 0, top: 0 }} />;
}
